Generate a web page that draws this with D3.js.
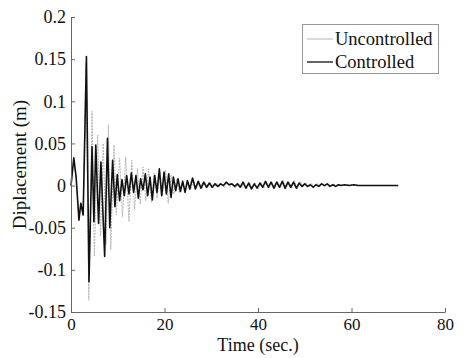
<!DOCTYPE html>
<html><head><meta charset="utf-8">
<script src="https://cdn.jsdelivr.net/npm/d3@7/dist/d3.min.js"></script>
<style>body{margin:0;background:#fff}svg{display:block}text{font-family:"Liberation Serif","Times New Roman",serif;fill:#111}</style>
</head><body><svg id="c" width="474" height="358"></svg>
<script>
const xTicks=[0,20,40,60,80];
const yTicks=[0.2,0.15,0.1,0.05,0,-0.05,-0.1,-0.15];
const yTickLabels=["0.2","0.15","0.1","0.05","0","-0.05","-0.1","-0.15"];
const seriesNames=["Uncontrolled","Controlled"];
const tU=[0,0.6,1.1,1.7,2.1,2.6,3.2,3.8,4.5,5.0,5.7,6.3,6.9,7.5,8.0,8.5,9.2,9.7,10.4,11.0,11.7,12.4,13.0,13.6,14.2,14.8,15.4,16.0,16.6,17.2,17.8,18.4,19.0,19.6,20.2,20.8,21.4,22.0,22.6,23.2,23.8,24.4,25.0,25.6,26.2,26.8,27.4,28.0,28.6,29.2,29.8,30.4,31.0,31.6,32.2,32.8,33.4,34.0,34.6,35.2,35.8,36.4,37.0,37.6,38.2,38.8,39.4,40.0,40.6,41.2,41.8,42.4,43.0,43.6,44.2,44.8,45.4,46.0,46.6,47.2,47.8,48.4,49.0,49.6,50.2,50.8,51.4,52.0,52.6,53.2,53.8,54.4,55.0,55.6,56.2,56.8,57.5,58.5,59.5,60.5,62,65,70];
const vU=[0,0.03,0.008,-0.038,-0.02,-0.033,0.145,-0.136,0.088,-0.084,0.06,-0.06,0.05,-0.07,0.072,-0.076,0.048,-0.035,0.033,-0.037,0.034,-0.043,0.03,-0.028,0.02,-0.022,0.022,-0.018,0.02,-0.02,0.015,-0.015,0.016,-0.012,0.018,-0.021,0.012,-0.01,0.008,-0.008,0.006,-0.007,0.005,-0.005,0.007,-0.004,0.005,-0.004,0.004,-0.003,0.003,-0.003,0.003,-0.002,0.003,-0.002,0.004,-0.002,0.003,-0.003,0.003,-0.003,0.004,-0.004,0.004,-0.004,0.003,-0.004,0.004,-0.003,0.005,-0.003,0.004,-0.004,0.005,-0.003,0.006,-0.004,0.005,-0.003,0.006,-0.004,0.005,-0.002,0.004,-0.002,0.003,-0.002,0.003,-0.001,0.003,-0.001,0.002,-0.001,0.002,-0.001,0.001,0,0.001,0,0,0,0];
const tC=[0,0.6,1.1,1.7,2.1,2.6,3.3,3.85,4.5,4.9,5.3,5.9,6.4,7.2,7.8,8.3,8.9,9.4,9.9,10.4,10.9,11.4,11.9,12.4,12.9,13.4,13.9,14.4,14.9,15.4,15.9,16.4,16.9,17.4,17.9,18.4,18.9,19.4,19.9,20.4,20.9,21.4,21.9,22.4,22.9,23.4,23.9,24.4,24.9,25.4,26.0,26.6,27.2,27.8,28.4,29.0,29.6,30.2,30.8,31.4,32.0,32.6,33.2,33.8,34.4,35.0,35.6,36.2,36.8,37.4,38.0,38.6,39.2,39.8,40.4,41.0,41.6,42.2,42.8,43.4,44.0,44.6,45.2,45.8,46.4,47.0,47.6,48.2,48.8,49.4,50.0,50.6,51.2,51.8,52.4,53.0,53.6,54.2,54.8,55.4,56.0,56.6,57.2,57.8,58.5,59.5,60.5,61.5,63,65,67,70];
const vC=[0,0.033,0.01,-0.041,-0.021,-0.035,0.153,-0.114,0.046,-0.043,0.048,-0.045,0.028,-0.084,0.056,-0.05,0.03,-0.025,0.013,-0.018,0.007,-0.012,0.012,-0.01,0.015,-0.008,0.012,-0.015,0.008,-0.005,0.014,-0.012,0.01,-0.017,0.012,-0.008,0.02,-0.012,0.016,-0.01,0.014,-0.014,0.01,-0.006,0.008,-0.007,0.005,-0.008,0.006,-0.004,0.009,-0.004,0.005,-0.003,0.004,-0.002,0.003,-0.002,0.002,-0.001,0.002,0,0.004,0.001,0.002,-0.001,0.002,-0.002,0.004,-0.003,0.003,-0.004,0.002,-0.003,0.003,-0.002,0.005,-0.002,0.004,-0.003,0.004,-0.002,0.005,-0.003,0.004,-0.002,0.004,-0.003,0.003,-0.001,0.002,-0.001,0.001,-0.002,0.001,-0.001,0.002,0,0.002,-0.001,0.001,-0.001,0.001,0,0.001,0,0.001,0,0,0,0,0];

const svg=d3.select("#c");
const L=71,R=445,T=17,B=312;
const x=d3.scaleLinear().domain([0,80]).range([L,R]);
const y=d3.scaleLinear().domain([-0.15,0.2]).range([B,T]);
const axCol="#666";

const line=d3.line().x(d=>x(d[0])).y(d=>y(d[1]));
svg.append("path").datum(tU.map((t,i)=>[t,vU[i]])).attr("d",line)
  .attr("fill","none").attr("stroke","#b5b5b5").attr("stroke-width",1).attr("stroke-dasharray","2,1");
svg.append("path").datum(tC.map((t,i)=>[t,vC[i]])).attr("d",line)
  .attr("fill","none").attr("stroke","#111").attr("stroke-width",1.6).attr("stroke-linejoin","round");

// axes
const gx=svg.append("g").attr("transform",`translate(0,${B})`)
  .call(d3.axisBottom(x).tickValues(xTicks).tickSizeInner(-4).tickSizeOuter(0).tickPadding(6));
gx.select(".domain").attr("stroke",axCol);
gx.selectAll(".tick line").attr("stroke",axCol);
gx.selectAll(".tick text").attr("font-size",17).attr("font-family","Liberation Serif").attr("fill","#111");
const gy=svg.append("g").attr("transform",`translate(${L},0)`)
  .call(d3.axisLeft(y).tickValues(yTicks).tickFormat((d,i)=>yTickLabels[i]).tickSizeInner(-4).tickSizeOuter(0).tickPadding(5));
gy.select(".domain").attr("stroke",axCol);
gy.selectAll(".tick line").attr("stroke",axCol);
gy.selectAll(".tick text").attr("font-size",18).attr("font-family","Liberation Serif").attr("fill","#111");

svg.append("text").attr("x",(L+R)/2).attr("y",351).attr("text-anchor","middle").attr("font-size",18).text("Time (sec.)");
svg.append("text").attr("transform",`translate(26,${(T+B)/2}) rotate(-90)`).attr("text-anchor","middle").attr("font-size",19).text("Diplacement (m)");

// legend
const lg=svg.append("g");
lg.append("rect").attr("x",302.5).attr("y",24.5).attr("width",136).attr("height",49).attr("fill","#fff").attr("stroke","#999");
const cols=["#b5b5b5","#111"],ws=[1,1.3],ly=[39,62];
seriesNames.forEach((n,i)=>{
  lg.append("line").attr("x1",307).attr("x2",333).attr("y1",ly[i]).attr("y2",ly[i]).attr("stroke",cols[i]).attr("stroke-width",ws[i]);
  lg.append("text").attr("x",335).attr("y",ly[i]+6).attr("font-size",18.5).text(n);
});
</script></body></html>
